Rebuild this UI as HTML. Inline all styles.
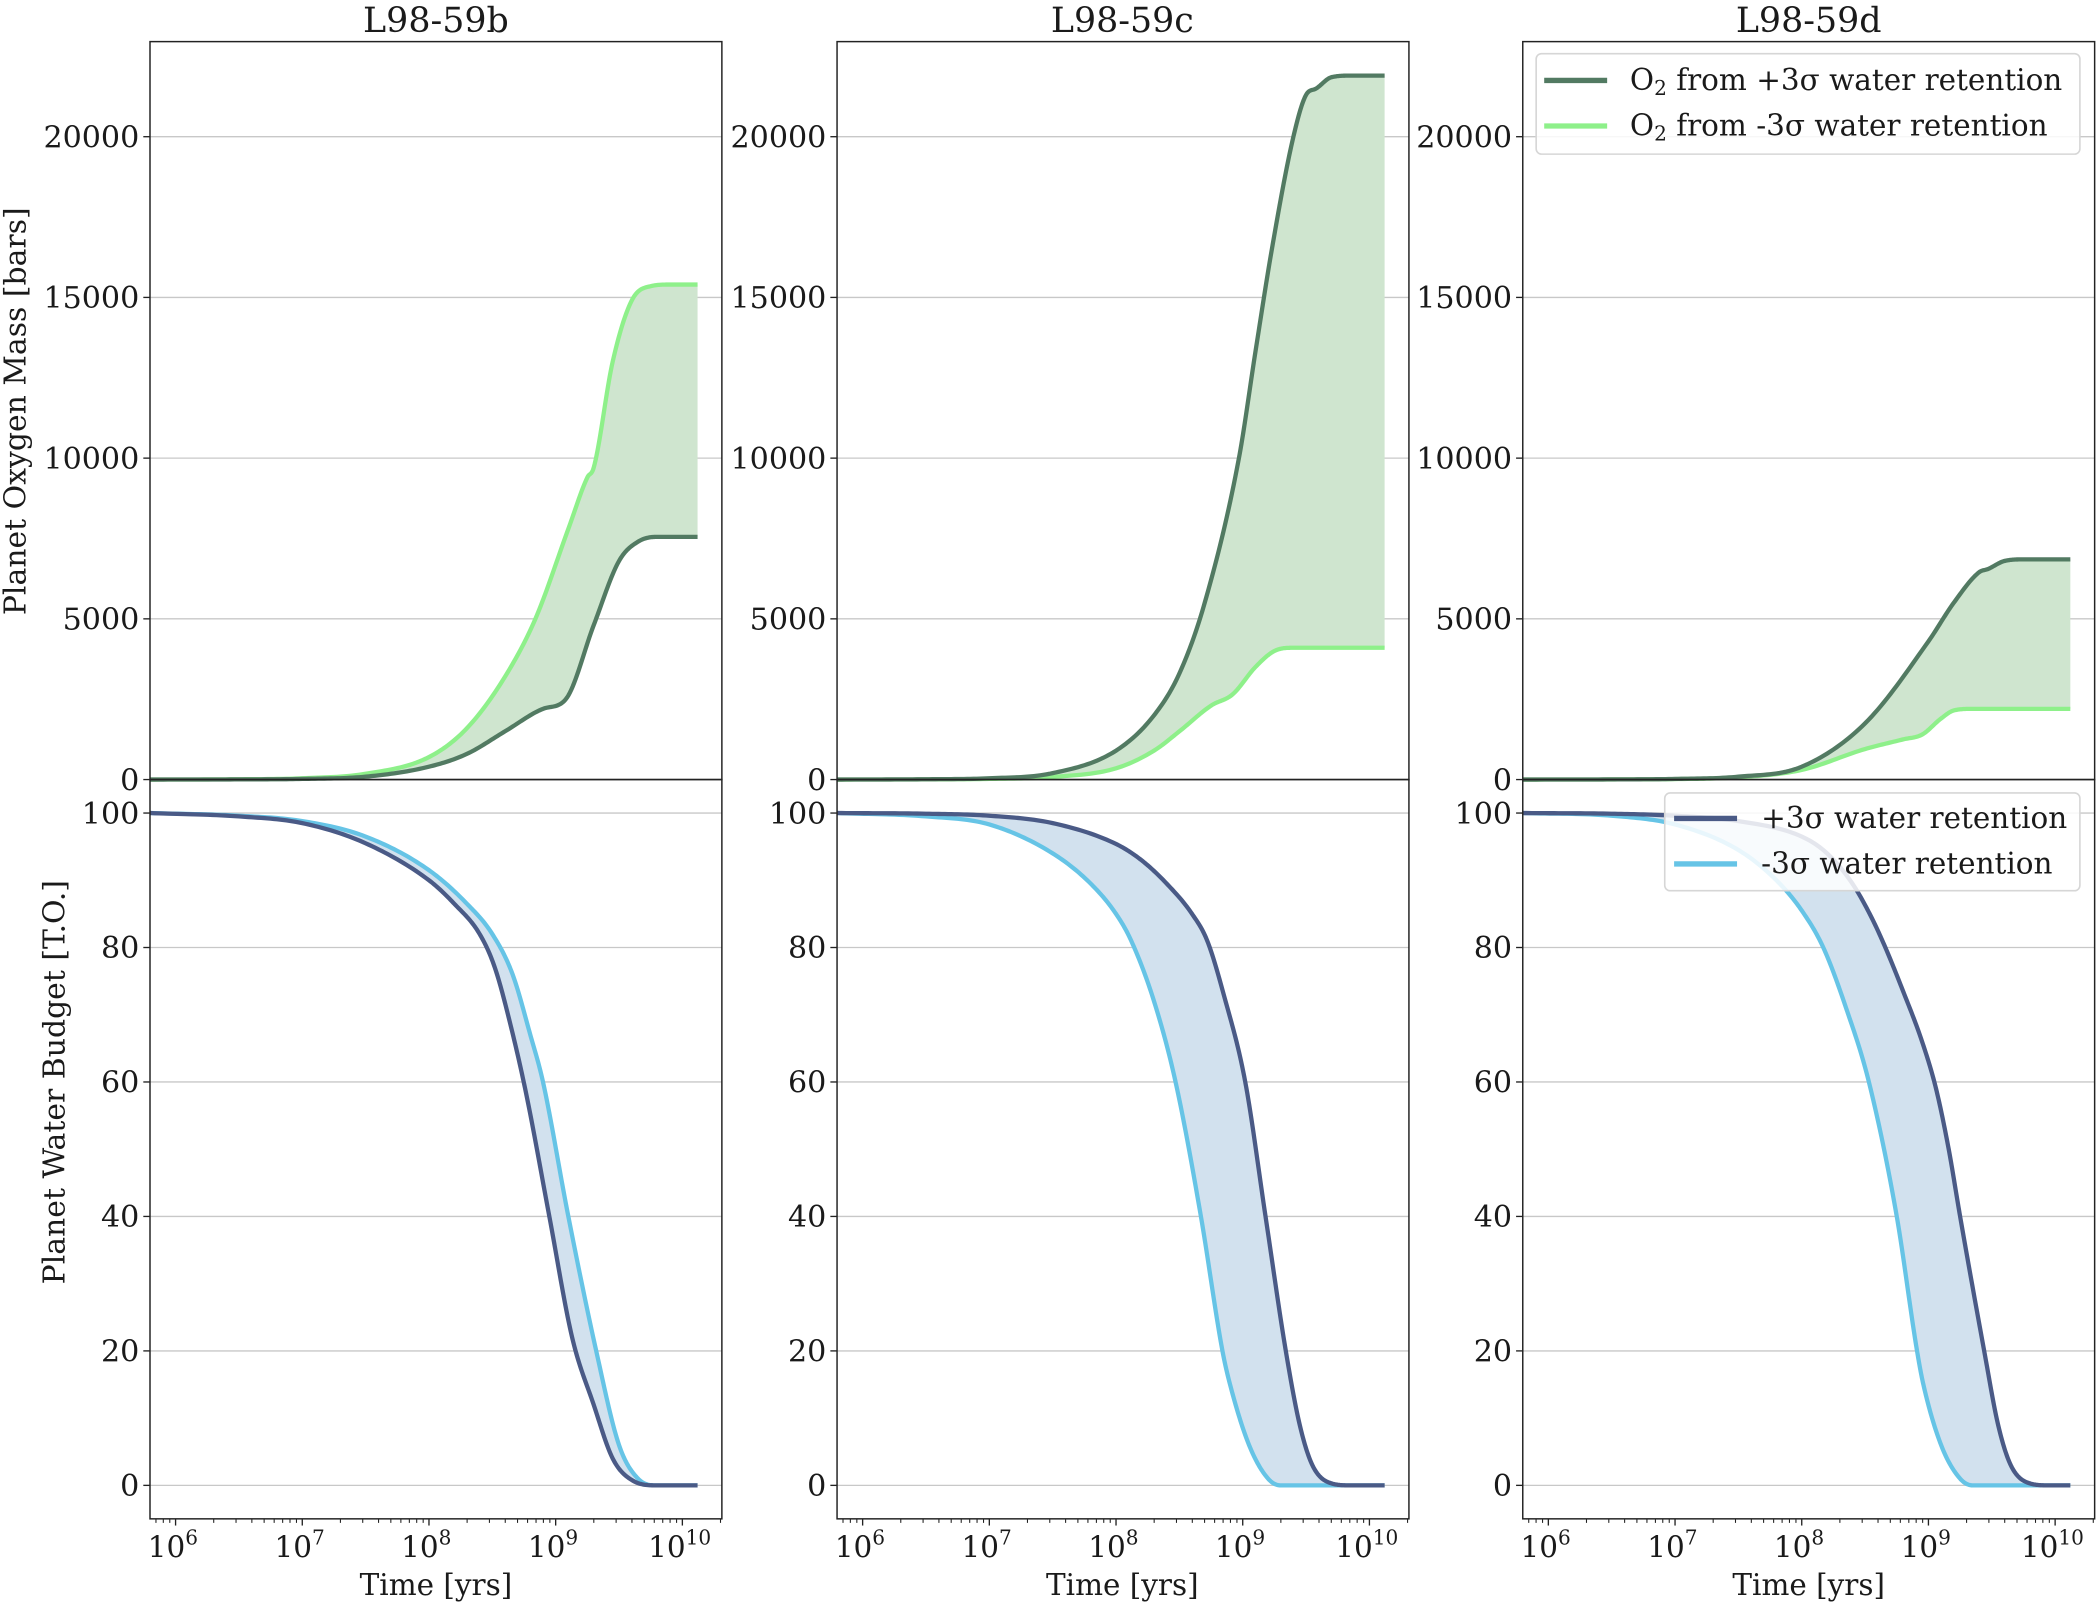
<!DOCTYPE html>
<html><head><meta charset="utf-8"><style>
html,body{margin:0;padding:0;background:#fff;}
svg{display:block;}
text{font-family:"DejaVu Serif","Liberation Serif",serif;fill:#1a1a1a;}
</style></head><body>
<svg id="s" width="2100" height="1606" viewBox="0 0 1568 1199" xmlns="http://www.w3.org/2000/svg">
<rect width="1568" height="1199" fill="#fff"/>
<g id="grid"></g>
<g id="fills"></g>
<g id="lines"></g>
<g id="axes"></g>
<text x="325.5" y="24" font-size="26" text-anchor="middle">L98-59b</text>
<text x="838" y="24" font-size="26" text-anchor="middle">L98-59c</text>
<text x="1350.5" y="24" font-size="26" text-anchor="middle">L98-59d</text>
<text transform="translate(19,307) rotate(-90)" font-size="22.3" text-anchor="middle">Planet Oxygen Mass [bars]</text>
<text transform="translate(48,808) rotate(-90)" font-size="22.3" text-anchor="middle">Planet Water Budget [T.O.]</text>
<text x="325.5" y="1191" font-size="22" text-anchor="middle">Time [yrs]</text>
<text x="838" y="1191" font-size="22" text-anchor="middle">Time [yrs]</text>
<text x="1350.5" y="1191" font-size="22" text-anchor="middle">Time [yrs]</text>
<rect x="1147" y="40" width="406" height="75" rx="4" fill="#fff" fill-opacity="0.85" stroke="#d6d6d6" stroke-width="1.2"/>
<line x1="1153" y1="60" x2="1200" y2="60" stroke="#527a62" stroke-width="4"/>
<line x1="1153" y1="94" x2="1200" y2="94" stroke="#8ef08a" stroke-width="4"/>
<text x="1217" y="67" font-size="22">O<tspan font-size="15" dy="4">2</tspan><tspan dy="-4"> from +3σ water retention</tspan></text>
<text x="1217" y="101" font-size="22">O<tspan font-size="15" dy="4">2</tspan><tspan dy="-4"> from -3σ water retention</tspan></text>
<rect x="1243" y="592" width="310" height="73" rx="4" fill="#fff" fill-opacity="0.85" stroke="#d6d6d6" stroke-width="1.2"/>
<line x1="1250" y1="611" x2="1297" y2="611" stroke="#4a5a86" stroke-width="4"/>
<line x1="1250" y1="645" x2="1297" y2="645" stroke="#66c4e6" stroke-width="4"/>
<text x="1315" y="618" font-size="22">+3σ water retention</text>
<text x="1315" y="652" font-size="22">-3σ water retention</text>
</svg>
<script>
var NS="http://www.w3.org/2000/svg";
function el(p,t,a){var e=document.createElementNS(NS,t);for(var k in a)e.setAttribute(k,a[k]);document.getElementById(p).appendChild(e);return e;}
var panels=[112,625,1137], W=427;
var TOP=31, MID=582, BOT=1134;
function X(L,l){return L+19.1+(l-6)*94.6;}
function YT(v){return 582-v/5000*120;}
function YB(v){return 1109-v*5.02;}
function mono(pts){
  var n=pts.length,x=pts.map(p=>p[0]),y=pts.map(p=>p[1]),d=[],m=[];
  for(var i=0;i<n-1;i++)d.push((y[i+1]-y[i])/(x[i+1]-x[i]));
  m[0]=d[0];m[n-1]=d[n-2];
  for(i=1;i<n-1;i++){m[i]=(d[i-1]*d[i]<=0)?0:(d[i-1]+d[i])/2;}
  for(i=0;i<n-1;i++){if(d[i]==0){m[i]=0;m[i+1]=0;continue;}var a=m[i]/d[i],b=m[i+1]/d[i],s=a*a+b*b;if(s>9){var t=3/Math.sqrt(s);m[i]=t*a*d[i];m[i+1]=t*b*d[i];}}
  var out=[];
  for(i=0;i<n-1;i++){var h=x[i+1]-x[i];for(var k=0;k<20;k++){var t=k/20,t2=t*t,t3=t2*t;
    var v=(2*t3-3*t2+1)*y[i]+(t3-2*t2+t)*h*m[i]+(-2*t3+3*t2)*y[i+1]+(t3-t2)*h*m[i+1];out.push([x[i]+t*h,v]);}}
  out.push(pts[n-1]);return out;
}
function path(L,pts,Y){return mono(pts).map(p=>[X(L,p[0]),Y(p[1])]);}
function d(a){return "M"+a.map(p=>p[0].toFixed(2)+","+p[1].toFixed(2)).join("L");}
var data=[
 {top:[
  [[5.8,0],[6.5,5],[7,20],[7.5,90],[8,400],[8.3,800],[8.6,1500],[8.9,2200],[9.08,2500],[9.3,4800],[9.5,6800],[9.65,7400],[9.8,7550],[10.12,7550]],
  [[5.8,0],[6.5,10],[7,40],[7.5,180],[8,700],[8.3,1600],[8.6,3200],[8.84,5000],[9.1,7800],[9.25,9400],[9.3,9700],[9.45,13000],[9.6,14900],[9.75,15350],[9.9,15400],[10.12,15400]]],
  bot:[
  [[5.8,100],[6.5,99.5],[7,98.5],[7.5,95.5],[8,90],[8.2,86.5],[8.4,82],[8.52,77],[8.65,68],[8.77,58],[8.95,40],[9.13,22],[9.3,12],[9.45,4],[9.6,0.8],[9.8,0],[10.12,0]],
  [[5.8,100],[6.5,99.6],[7,98.8],[7.5,96.5],[8,91.5],[8.3,86.5],[8.5,82],[8.66,76],[8.8,67],[8.9,60],[9.1,40],[9.32,20],[9.5,6],[9.65,1],[9.8,0],[10.12,0]]]},
 {top:[
  [[5.8,0],[6.5,10],[7,40],[7.5,200],[8,900],[8.3,2000],[8.5,3300],[8.7,5500],[8.97,10000],[9.1,13300],[9.23,16500],[9.4,20000],[9.5,21300],[9.58,21500],[9.7,21850],[9.85,21900],[10.12,21900]],
  [[5.8,0],[6.5,5],[7,20],[7.5,80],[8,350],[8.3,900],[8.5,1500],[8.75,2300],[8.92,2650],[9.1,3500],[9.25,4000],[9.4,4100],[10.12,4100]]],
  bot:[
  [[5.8,100],[6.5,99.9],[7,99.6],[7.5,98.5],[8,95.4],[8.2,93],[8.4,89.5],[8.6,85],[8.72,81],[8.85,73],[9.02,60],[9.18,40],[9.34,20],[9.45,9],[9.55,3],[9.7,0.3],[9.85,0],[10.12,0]],
  [[5.8,100],[6.5,99.5],[7,98.3],[7.5,94],[7.8,89.5],[8,85],[8.12,81],[8.3,72],[8.47,60],[8.67,40],[8.84,20],[8.9,15],[9.05,6],[9.2,1],[9.3,0],[10.12,0]]]},
 {top:[
  [[5.8,0],[6.5,5],[7,20],[7.5,90],[8,400],[8.5,1750],[9,4300],[9.2,5500],[9.4,6450],[9.47,6550],[9.6,6800],[9.75,6850],[10.12,6850]],
  [[5.8,0],[6.5,4],[7,15],[7.5,70],[8,300],[8.5,950],[8.8,1250],[8.95,1400],[9.1,1900],[9.2,2150],[9.35,2200],[10.12,2200]]],
  bot:[
  [[5.8,100],[6.5,99.9],[7,99.6],[7.5,98.8],[8,96.5],[8.2,94],[8.4,89.5],[8.55,84.5],[8.66,80],[8.8,73.5],[8.95,66],[9.06,59],[9.16,50],[9.25,40],[9.44,20],[9.55,9],[9.65,3],[9.8,0.3],[9.95,0],[10.12,0]],
  [[5.8,100],[6.5,99.6],[7,98.3],[7.5,94.5],[7.8,90],[8,85.5],[8.17,80],[8.35,71],[8.53,60],[8.75,40],[8.91,20],[8.96,15],[9.1,6],[9.25,1],[9.35,0],[10.12,0]]]}
];
panels.forEach(function(L,i){
  [5000,10000,15000,20000].forEach(v=>el("grid","line",{x1:L,x2:L+W,y1:YT(v),y2:YT(v),stroke:"#c8c8c8","stroke-width":1}));
  [0,20,40,60,80,100].forEach(v=>el("grid","line",{x1:L,x2:L+W,y1:YB(v),y2:YB(v),stroke:"#c8c8c8","stroke-width":1}));
  var D=data[i];
  var a=path(L,D.top[0],YT),b=path(L,D.top[1],YT);
  el("fills","path",{d:d(a.concat(b.slice().reverse()))+"Z",fill:"#cfe5cf"});
  var c=path(L,D.bot[0],YB),e=path(L,D.bot[1],YB);
  el("fills","path",{d:d(c.concat(e.slice().reverse()))+"Z",fill:"#d2e1ee"});
  el("lines","path",{d:d(b),fill:"none",stroke:"#8ef08a","stroke-width":3.2});
  el("lines","path",{d:d(a),fill:"none",stroke:"#527a62","stroke-width":3.2});
  el("lines","path",{d:d(e),fill:"none",stroke:"#66c4e6","stroke-width":3.2});
  el("lines","path",{d:d(c),fill:"none",stroke:"#4a5a86","stroke-width":3.2});
  el("axes","rect",{x:L,y:TOP,width:W,height:MID-TOP,fill:"none",stroke:"#222","stroke-width":1.1});
  el("axes","rect",{x:L,y:MID,width:W,height:BOT-MID,fill:"none",stroke:"#222","stroke-width":1.1});
  [0,5000,10000,15000,20000].forEach(v=>{var y=YT(v);el("axes","line",{x1:L-5,x2:L,y1:y,y2:y,stroke:"#222"});
    var t=el("axes","text",{x:L-8,y:y+8,"font-size":22.5,"text-anchor":"end"});t.textContent=v;});
  [0,20,40,60,80,100].forEach(v=>{var y=YB(v);el("axes","line",{x1:L-5,x2:L,y1:y,y2:y,stroke:"#222"});
    var t=el("axes","text",{x:L-8,y:y+8,"font-size":22.5,"text-anchor":"end"});t.textContent=v;});
  for(var dec=5;dec<=10;dec++){for(var k=1;k<10;k++){var l=dec+Math.log10(k);var x=X(L,l);if(x<L||x>L+W)continue;
    el("axes","line",{x1:x,x2:x,y1:BOT,y2:BOT+(k==1?5:3),stroke:"#222","stroke-width":k==1?1:0.8});}
    if(dec>=6){var t=el("axes","text",{x:X(L,dec)-2,y:BOT+29,"font-size":22,"text-anchor":"middle"});
      t.innerHTML='10<tspan font-size="15" dy="-10">'+dec+'</tspan>';}}
});
</script>
</body></html>
